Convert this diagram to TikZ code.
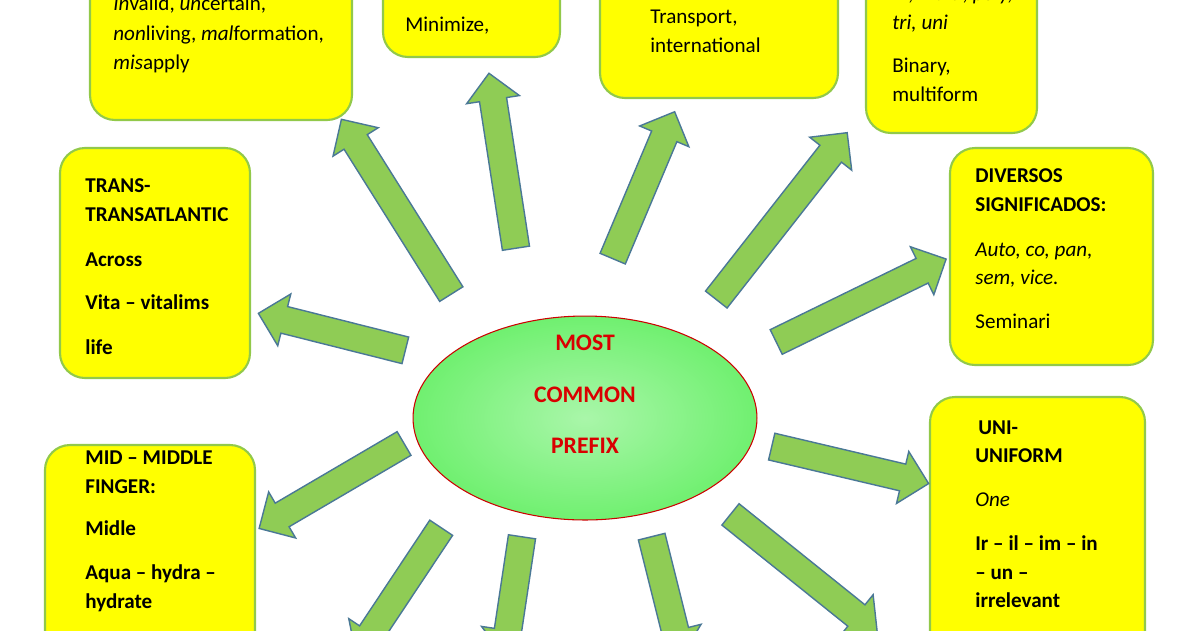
\documentclass[tikz,border=0pt]{standalone}
\usepackage{fontspec}
\setmainfont{Carlito}
\usetikzlibrary{shapes.arrows,shapes.geometric,calc}
\definecolor{boxy}{HTML}{FFFF00}
\definecolor{boxg}{HTML}{92C94A}
\definecolor{arrg}{HTML}{8FCC55}
\definecolor{arrb}{HTML}{4A7896}
\definecolor{ellg}{HTML}{70F070}
\begin{document}
\begin{tikzpicture}[x=0.02cm,y=-0.02cm,
 ybox/.style={draw=boxg,line width=1.2pt,fill=boxy,rounded corners=0.5cm},
 txt/.style={anchor=base west,inner sep=0,font=\fontsize{12}{14}\selectfont},
 btxt/.style={txt,font=\fontsize{12}{14}\selectfont\bfseries},
 ctxt/.style={anchor=base,inner sep=0,text=red!85!black,font=\fontsize{13.5}{16}\selectfont\bfseries},
 arrowst/.style={single arrow,draw=arrb,fill=arrg,line width=0.8pt,inner xsep=0pt,inner ysep=0.26cm,
   single arrow head extend=0.26cm,single arrow head indent=0pt}]
\useasboundingbox (0,0) rectangle (1200,630);
\clip (0,0) rectangle (1200,630);
\fill[white] (0,0) rectangle (1200,630);
\newcommand\blockarrow[3]{%
 \coordinate (#1a) at (#2); \coordinate (#1b) at (#3);
 \path let \p1=($(#1b)-(#1a)$), \n1={atan2(\y1,\x1)}, \n2={veclen(\x1,\y1)} in
   node[arrowst,rotate=\n1,minimum height=\n2] (#1) at ($(#1a)!0.5!(#1b)$) {};}
% boxes
\draw[ybox] (90,-40) rectangle (352,120);
\node[txt] (t1a) at (113,10) {\textit{In}valid, \textit{un}certain,};
\node[txt] (t1b) at (113,40) {\textit{non}living, \textit{mal}formation,};
\node[txt] (t1c) at (113,69) {\textit{mis}apply};
\draw[ybox] (383,-40) rectangle (560,57);
\node[txt] (t2) at (405,31) {Minimize,};
\draw[ybox] (600,-40) rectangle (838,98);
\node[txt] (t3a) at (650,23) {Transport,};
\node[txt] (t3b) at (650,52) {international};
\draw[ybox] (866,-40) rectangle (1037,133);
\node[txt] (t4a) at (892,0) {\textit{Bi, multi, poly,}};
\node[txt] (t4b) at (892,29) {\textit{tri, uni}};
\node[txt] (t4c) at (892,72) {Binary,};
\node[txt] (t4d) at (892,101) {multiform};
\draw[ybox] (60,148) rectangle (250,378);
\node[btxt] (t5a) at (85,192) {TRANS-};
\node[btxt] (t5b) at (85,221) {TRANSATLANTIC};
\node[btxt] (t5c) at (85,266) {Across};
\node[btxt] (t5d) at (85,309) {Vita -- vitalims};
\node[btxt] (t5e) at (85,354) {life};
\draw[ybox] (950,148) rectangle (1153,365);
\node[btxt] (t6a) at (975,182) {DIVERSOS};
\node[btxt] (t6b) at (975,211) {SIGNIFICADOS:};
\node[txt] (t6c) at (975,256) {\textit{Auto, co, pan,}};
\node[txt] (t6d) at (975,284) {\textit{sem, vice.}};
\node[txt] (t6e) at (975,328) {Seminari};
\draw[ybox] (45,445) rectangle (255,660);
\node[btxt] (t7a) at (85,464) {MID -- MIDDLE};
\node[btxt] (t7b) at (85,493) {FINGER:};
\node[btxt] (t7c) at (85,535) {Midle};
\node[btxt] (t7d) at (85,579) {Aqua -- hydra --};
\node[btxt] (t7e) at (85,608) {hydrate};
\draw[ybox] (930,397) rectangle (1145,660);
\node[btxt] (t8a) at (978,434) {UNI-};
\node[btxt] (t8b) at (975,462) {UNIFORM};
\node[txt] (t8c) at (975,506) {\textit{One}};
\node[btxt] (t8d) at (975,550) {Ir -- il -- im -- in};
\node[btxt] (t8e) at (975,579) {-- un --};
\node[btxt] (t8f) at (975,607) {irrelevant};
% centre
\node[ellipse,draw=red!80!black,line width=0.6pt,inner color=ellg!60,outer color=ellg,minimum width=6.88cm,minimum height=4.08cm] (c) at (585,418) {};
\node[ctxt] (m1) at (585,350) {MOST};
\node[ctxt] (m2) at (585,402) {COMMON};
\node[ctxt] (m3) at (585,453) {PREFIX};
% arrows
\blockarrow{a1}{455,300}{345,125}
\blockarrow{a2}{517,255}{490,80}
\blockarrow{a3}{610,265}{672,118}
\blockarrow{a4}{712,305}{843,138}
\blockarrow{a5}{770,345}{940,262}
\blockarrow{a6}{412,352}{265,315}
\blockarrow{a7}{410,440}{265,525}
\blockarrow{a8}{765,445}{922,482}
\blockarrow{a9}{725,510}{872,628}
\blockarrow{a10}{445,522}{360,650}
\blockarrow{a11}{523,530}{505,650}
\blockarrow{a12}{650,530}{680,650}
\end{tikzpicture}
\end{document}
